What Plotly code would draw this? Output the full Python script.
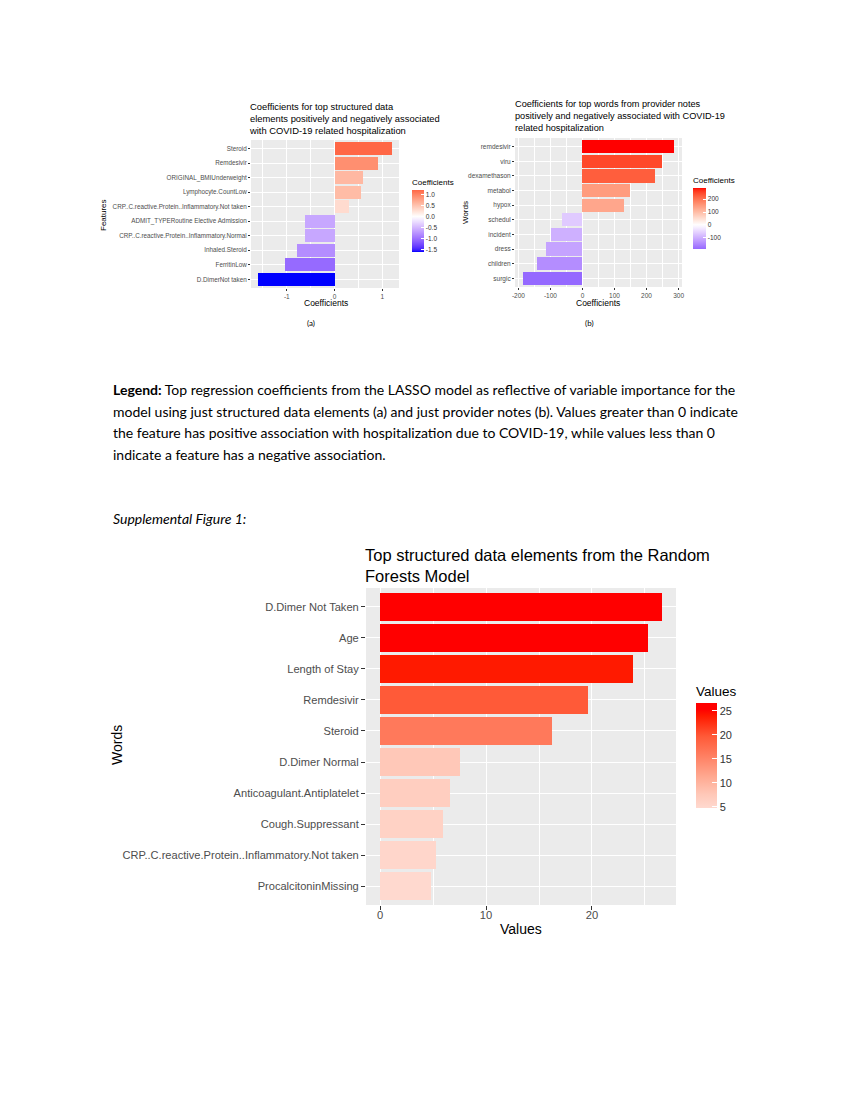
import plotly.graph_objects as go

W, H = 850, 1100

# ---------------- data ----------------
a_features = ["Steroid", "Remdesivir", "ORIGINAL_BMIUnderweight", "Lymphocyte.CountLow",
              "CRP..C.reactive.Protein..Inflammatory.Not taken", "ADMIT_TYPERoutine Elective Admission",
              "CRP..C.reactive.Protein..Inflammatory.Normal", "Inhaled.Steroid", "FerritinLow",
              "D.DimerNot taken"]
a_coefs = [1.21, 0.92, 0.59, 0.56, 0.30, -0.61, -0.61, -0.79, -1.04, -1.61]
a_xticks = [-1, 0, 1]
a_xticktext = ["-1", "0", "1"]
a_cbticks = [-1.5, -1.0, -0.5, 0.0, 0.5, 1.0]
a_cbtext = ["-1.5", "-1.0", "-0.5", "0.0", "0.5", "1.0"]

b_words = ["remdesivir", "viru", "dexamethason", "metabol", "hypox",
           "schedul", "incident", "dress", "children", "surgic"]
b_coefs = [287, 249, 227, 147, 131, -65, -97, -113, -141, -187]
b_xticks = [-200, -100, 0, 100, 200, 300]
b_xticktext = ["-200", "-100", "0", "100", "200", "300"]
b_cbticks = [-100, 0, 100, 200]
b_cbtext = ["-100", "0", "100", "200"]

c_words = ["D.Dimer Not Taken", "Age", "Length of Stay", "Remdesivir", "Steroid",
           "D.Dimer Normal", "Anticoagulant.Antiplatelet", "Cough.Suppressant",
           "CRP..C.reactive.Protein..Inflammatory.Not taken", "ProcalcitoninMissing"]
c_values = [26.6, 25.3, 23.9, 19.6, 16.2, 7.55, 6.64, 5.96, 5.25, 4.77]
c_xticks = [0, 10, 20]
c_cbticks = [5, 10, 15, 20, 25]

legend_lines = [
    "<b>Legend:</b> Top regression coefficients from the LASSO model as reflective of variable importance for the",
    "model using just structured data elements (a) and just provider notes (b). Values greater than 0 indicate",
    "the feature has positive association with hospitalization due to COVID-19, while values less than 0",
    "indicate a feature has a negative association.",
]

# ---------------- colour helpers (Lab interpolation like ggplot) ----------------
def hex_to_rgb(h):
    h = h.lstrip("#")
    return [int(h[i:i + 2], 16) for i in (0, 2, 4)]

def _lin(c):
    c = c / 255.0
    return c / 12.92 if c <= 0.04045 else ((c + 0.055) / 1.055) ** 2.4

def _delin(c):
    c = 12.92 * c if c <= 0.0031308 else 1.055 * c ** (1 / 2.4) - 0.055
    return max(0, min(255, round(c * 255)))

WN = (0.95047, 1.0, 1.08883)

def rgb_to_lab(rgb):
    r, g, b = [_lin(v) for v in rgb]
    X = 0.4124564 * r + 0.3575761 * g + 0.1804375 * b
    Y = 0.2126729 * r + 0.7151522 * g + 0.0721750 * b
    Z = 0.0193339 * r + 0.1191920 * g + 0.9503041 * b
    f = lambda t: t ** (1 / 3) if t > 0.008856 else 7.787 * t + 16 / 116
    fx, fy, fz = f(X / WN[0]), f(Y / WN[1]), f(Z / WN[2])
    return (116 * fy - 16, 500 * (fx - fy), 200 * (fy - fz))

def lab_to_hex(lab):
    L, a, b = lab
    fy = (L + 16) / 116
    fx = fy + a / 500
    fz = fy - b / 200
    finv = lambda t: t ** 3 if t ** 3 > 0.008856 else (t - 16 / 116) / 7.787
    X, Y, Z = finv(fx) * WN[0], finv(fy) * WN[1], finv(fz) * WN[2]
    r = 3.2404542 * X - 1.5371385 * Y - 0.4985314 * Z
    g = -0.9692660 * X + 1.8760108 * Y + 0.0415560 * Z
    bb = 0.0556434 * X - 0.2040259 * Y + 1.0572252 * Z
    return "#%02X%02X%02X" % (_delin(max(r, 0)), _delin(max(g, 0)), _delin(max(bb, 0)))

def lerp(c1, c2, t):
    l1, l2 = rgb_to_lab(hex_to_rgb(c1)), rgb_to_lab(hex_to_rgb(c2))
    return lab_to_hex(tuple(l1[i] + (l2[i] - l1[i]) * t for i in range(3)))

def scale2(vmin, vmax, low="#0000FF", mid="#FFFFFF", high="#FF0000", n=41):
    m = max(abs(vmin), abs(vmax))
    out = []
    for i in range(n):
        t = i / (n - 1)
        v = vmin + t * (vmax - vmin)
        p = 0.5 + v / (2 * m)
        col = lerp(low, mid, p / 0.5) if p <= 0.5 else lerp(mid, high, (p - 0.5) / 0.5)
        out.append([t, col])
    return out

# sequential fill scale of the random-forest panel (colour stops, style only)
c_colorscale = [[0.0, "#FFD9CF"], [0.13, "#FFC8B8"], [0.30, "#FFA890"], [0.52, "#FF7A5C"],
                [0.68, "#FF5A38"], [0.876, "#FF1A00"], [0.94, "#FF0000"], [1.0, "#FF0000"]]

def px(x):
    return x / W

def py(y):
    return 1 - y / H

def expand(vals, include_zero=True, mult=0.05):
    lo, hi = min(vals), max(vals)
    if include_zero:
        lo, hi = min(lo, 0), max(hi, 0)
    d = (hi - lo) * mult
    return [lo - d, hi + d]

CHART_FONT = "Liberation Sans, Arial, sans-serif"
DOC_FONT = "Lato, Open Sans, sans-serif"
TICK_COL = "#4D4D4D"

fig = go.Figure()
fig.add_trace(go.Bar(x=a_coefs, y=a_features, orientation="h", width=0.9,
                     marker=dict(color=a_coefs, coloraxis="coloraxis", line=dict(width=0)),
                     xaxis="x", yaxis="y", showlegend=False))
fig.add_trace(go.Bar(x=b_coefs, y=b_words, orientation="h", width=0.9,
                     marker=dict(color=b_coefs, coloraxis="coloraxis2", line=dict(width=0)),
                     xaxis="x2", yaxis="y2", showlegend=False))
fig.add_trace(go.Bar(x=c_values, y=c_words, orientation="h", width=0.9,
                     marker=dict(color=c_values, coloraxis="coloraxis3", line=dict(width=0)),
                     xaxis="x3", yaxis="y3", showlegend=False))

def xax(domain, anchor, rng, tickvals, ticktext, minorvals, fs, gw, tl, standoff):
    return dict(domain=domain, anchor=anchor, range=rng, tickvals=tickvals, ticktext=ticktext,
                showgrid=True, gridcolor="white", gridwidth=gw, zeroline=False, showline=False,
                ticks="outside", ticklen=tl, tickwidth=max(gw, 0.6), tickcolor="#333333",
                ticklabelstandoff=standoff,
                tickfont=dict(family=CHART_FONT, size=fs, color=TICK_COL),
                minor=dict(tickvals=minorvals, showgrid=True, gridcolor="white",
                           gridwidth=gw / 2, ticks=""),
                fixedrange=True)

def yax(domain, anchor, cats, fs, gw, tl):
    n = len(cats)
    return dict(domain=domain, anchor=anchor, type="category", categoryorder="array",
                categoryarray=cats, range=[n - 1 + 0.6, -0.6],
                showgrid=True, gridcolor="white", gridwidth=gw, zeroline=False, showline=False,
                ticks="outside", ticklen=tl, tickwidth=max(gw, 0.6), tickcolor="#333333",
                tickfont=dict(family=CHART_FONT, size=fs, color=TICK_COL), fixedrange=True)

a_x = [251, 399]; a_y = [140, 288]
b_x = [515, 682]; b_y = [138, 287]
c_x = [366, 676]; c_y = [588, 905]

def cb(title, x, ytop, length, thick, tickvals, ticktext, tfs, fs):
    return dict(title=dict(text=title, side="top", font=dict(family=CHART_FONT, size=tfs, color="black")),
                x=px(x), xanchor="left", y=py(ytop), yanchor="top",
                lenmode="pixels", len=length, thickness=thick, thicknessmode="pixels",
                xpad=0, ypad=0, outlinewidth=0, tickvals=tickvals, ticktext=ticktext,
                ticks="inside", tickcolor="white", ticklen=thick * 0.2,
                tickfont=dict(family=CHART_FONT, size=fs, color="#333333"))

fig.update_layout(
    template="none",
    width=W, height=H, margin=dict(l=0, r=0, t=0, b=0),
    paper_bgcolor="white", plot_bgcolor="#EBEBEB", bargap=0,
    xaxis=xax([px(a_x[0]), px(a_x[1])], "y", expand(a_coefs), a_xticks, a_xticktext,
              [-1.5, -0.5, 0.5], 6.5, 0.6, 2, 0),
    yaxis=yax([py(a_y[1]), py(a_y[0])], "x", a_features, 6.3, 0.6, 2),
    xaxis2=xax([px(b_x[0]), px(b_x[1])], "y2", expand(b_coefs), b_xticks, b_xticktext,
               [-150, -50, 50, 150, 250], 6.5, 0.6, 2, 0),
    yaxis2=yax([py(b_y[1]), py(b_y[0])], "x2", b_words, 6.5, 0.6, 2),
    xaxis3=xax([px(c_x[0]), px(c_x[1])], "y3", expand(c_values), c_xticks,
               [str(v) for v in c_xticks], [5, 15, 25], 11.2, 1.2, 4, -4),
    yaxis3=yax([py(c_y[1]), py(c_y[0])], "x3", c_words, 11.1, 1.2, 4),
    coloraxis=dict(cmin=min(a_coefs), cmax=max(a_coefs), colorscale=scale2(min(a_coefs), max(a_coefs)),
                   colorbar=cb("Coefficients", 412, 176, 76, 12, a_cbticks, a_cbtext, 8, 6.5)),
    coloraxis2=dict(cmin=min(b_coefs), cmax=max(b_coefs), colorscale=scale2(min(b_coefs), max(b_coefs)),
                    colorbar=cb("Coefficients", 693, 174, 75, 13, b_cbticks, b_cbtext, 8, 6.5)),
    coloraxis3=dict(cmin=min(c_values), cmax=max(c_values), colorscale=c_colorscale,
                    colorbar=cb("Values", 696, 683, 125, 21, c_cbticks, [str(v) for v in c_cbticks], 13.5, 11)),
)

ann = []
def add(text, x, y, size, family=CHART_FONT, xanchor="left", yanchor="middle", angle=0, color="black", align="left"):
    ann.append(dict(text=text, x=px(x), y=py(y), xref="paper", yref="paper", showarrow=False,
                    xanchor=xanchor, yanchor=yanchor, textangle=angle, align=align,
                    font=dict(family=family, size=size, color=color)))

# chart (a)
add("Coefficients for top structured data<br>elements positively and negatively associated<br>with COVID-19 related hospitalization",
    247, 138, 9.4, yanchor="bottom")
add("Features", 104, 215, 8, xanchor="center", angle=-90)
add("Coefficients", 326, 303, 8.5, xanchor="center")
add("(a)", 311, 323, 8, family=DOC_FONT, xanchor="center")
# chart (b)
add("Coefficients for top words from provider notes<br>positively and negatively associated with COVID-19<br>related hospitalization",
    513, 135, 9.2, yanchor="bottom")
add("Words", 466, 213, 8, xanchor="center", angle=-90)
add("Coefficients", 598, 303, 8.5, xanchor="center")
add("(b)", 589, 323, 8, family=DOC_FONT, xanchor="center")
# legend text
for i, line in enumerate(legend_lines):
    add(line, 111, 389 + 22 * i, 14.0, family=DOC_FONT)
add("<i>Supplemental Figure 1:</i>", 111, 518, 14.0, family=DOC_FONT)
# chart (c)
add("Top structured data elements from the Random<br>Forests Model", 363, 587, 16.5, yanchor="bottom")
add("Words", 117, 745, 14, xanchor="center", angle=-90)
add("Values", 521, 929, 14, xanchor="center")

fig.update_layout(annotations=ann)
fig.write_html("out.html", config={"displayModeBar": False},
               post_script="document.body.style.margin='0px';")
